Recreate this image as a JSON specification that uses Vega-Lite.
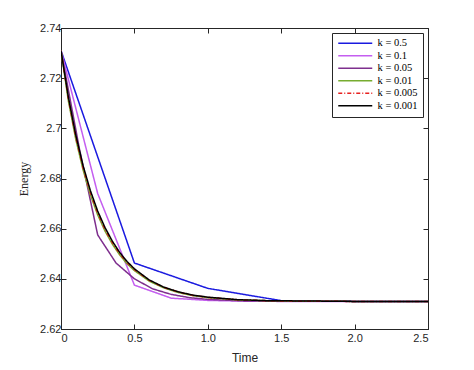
{
  "$schema": "https://vega.github.io/schema/vega-lite/v6.json",
  "autosize": "none",
  "width": 367,
  "height": 301,
  "padding": {"left": 61, "top": 28, "right": 46, "bottom": 41},
  "background": "white",
  "config": {
    "view": {"stroke": "#262626", "strokeWidth": 1},
    "axis": {"grid": false, "domainColor": "#262626", "tickColor": "#262626", "labelColor": "#262626", "labelFont": "Liberation Sans", "labelFontSize": 11, "tickSize": -5, "titleColor": "#262626", "titleFontWeight": "normal"}
  },
  "data": {"values": [
    {"k": "k = 0.5", "t": 0, "E": 2.731},
    {"k": "k = 0.5", "t": 0.5, "E": 2.6463},
    {"k": "k = 0.5", "t": 1.0, "E": 2.6362},
    {"k": "k = 0.5", "t": 1.5, "E": 2.6313},
    {"k": "k = 0.5", "t": 2.0, "E": 2.631},
    {"k": "k = 0.5", "t": 2.5, "E": 2.631},
    {"k": "k = 0.1", "t": 0, "E": 2.731},
    {"k": "k = 0.1", "t": 0.25, "E": 2.674},
    {"k": "k = 0.1", "t": 0.5, "E": 2.6375},
    {"k": "k = 0.1", "t": 0.75, "E": 2.6323},
    {"k": "k = 0.1", "t": 1.0, "E": 2.6314},
    {"k": "k = 0.1", "t": 1.25, "E": 2.6311},
    {"k": "k = 0.1", "t": 1.5, "E": 2.631},
    {"k": "k = 0.1", "t": 2.0, "E": 2.631},
    {"k": "k = 0.1", "t": 2.5, "E": 2.631},
    {"k": "k = 0.05", "t": 0, "E": 2.731},
    {"k": "k = 0.05", "t": 0.125, "E": 2.692},
    {"k": "k = 0.05", "t": 0.25, "E": 2.6575},
    {"k": "k = 0.05", "t": 0.375, "E": 2.6463},
    {"k": "k = 0.05", "t": 0.5, "E": 2.64},
    {"k": "k = 0.05", "t": 0.625, "E": 2.636},
    {"k": "k = 0.05", "t": 0.75, "E": 2.6338},
    {"k": "k = 0.05", "t": 0.875, "E": 2.6325},
    {"k": "k = 0.05", "t": 1.0, "E": 2.6318},
    {"k": "k = 0.05", "t": 1.25, "E": 2.6312},
    {"k": "k = 0.05", "t": 1.5, "E": 2.6311},
    {"k": "k = 0.05", "t": 2.0, "E": 2.631},
    {"k": "k = 0.05", "t": 2.5, "E": 2.631},
    {"k": "k = 0.01", "t": 0, "E": 2.731},
    {"k": "k = 0.01", "t": 0.05, "E": 2.711},
    {"k": "k = 0.01", "t": 0.1, "E": 2.6958},
    {"k": "k = 0.01", "t": 0.15, "E": 2.6835},
    {"k": "k = 0.01", "t": 0.2, "E": 2.6735},
    {"k": "k = 0.01", "t": 0.25, "E": 2.6655},
    {"k": "k = 0.01", "t": 0.3, "E": 2.659},
    {"k": "k = 0.01", "t": 0.35, "E": 2.6538},
    {"k": "k = 0.01", "t": 0.4, "E": 2.6495},
    {"k": "k = 0.01", "t": 0.45, "E": 2.646},
    {"k": "k = 0.01", "t": 0.5, "E": 2.6433},
    {"k": "k = 0.01", "t": 0.6, "E": 2.6391},
    {"k": "k = 0.01", "t": 0.7, "E": 2.6364},
    {"k": "k = 0.01", "t": 0.8, "E": 2.6345},
    {"k": "k = 0.01", "t": 0.9, "E": 2.6333},
    {"k": "k = 0.01", "t": 1.0, "E": 2.6325},
    {"k": "k = 0.01", "t": 1.2, "E": 2.6316},
    {"k": "k = 0.01", "t": 1.4, "E": 2.6313},
    {"k": "k = 0.01", "t": 1.6, "E": 2.6311},
    {"k": "k = 0.01", "t": 2.0, "E": 2.631},
    {"k": "k = 0.01", "t": 2.5, "E": 2.631},
    {"k": "k = 0.005", "t": 0, "E": 2.731},
    {"k": "k = 0.005", "t": 0.05, "E": 2.7118},
    {"k": "k = 0.005", "t": 0.1, "E": 2.6966},
    {"k": "k = 0.005", "t": 0.15, "E": 2.6843},
    {"k": "k = 0.005", "t": 0.2, "E": 2.6743},
    {"k": "k = 0.005", "t": 0.25, "E": 2.6662},
    {"k": "k = 0.005", "t": 0.3, "E": 2.6597},
    {"k": "k = 0.005", "t": 0.35, "E": 2.6544},
    {"k": "k = 0.005", "t": 0.4, "E": 2.65},
    {"k": "k = 0.005", "t": 0.45, "E": 2.6465},
    {"k": "k = 0.005", "t": 0.5, "E": 2.6437},
    {"k": "k = 0.005", "t": 0.6, "E": 2.6394},
    {"k": "k = 0.005", "t": 0.7, "E": 2.6366},
    {"k": "k = 0.005", "t": 0.8, "E": 2.6347},
    {"k": "k = 0.005", "t": 0.9, "E": 2.6334},
    {"k": "k = 0.005", "t": 1.0, "E": 2.6326},
    {"k": "k = 0.005", "t": 1.2, "E": 2.6317},
    {"k": "k = 0.005", "t": 1.4, "E": 2.6313},
    {"k": "k = 0.005", "t": 1.6, "E": 2.6311},
    {"k": "k = 0.005", "t": 2.0, "E": 2.631},
    {"k": "k = 0.005", "t": 2.5, "E": 2.631},
    {"k": "k = 0.001", "t": 0, "E": 2.731},
    {"k": "k = 0.001", "t": 0.05, "E": 2.7125},
    {"k": "k = 0.001", "t": 0.1, "E": 2.6975},
    {"k": "k = 0.001", "t": 0.15, "E": 2.6852},
    {"k": "k = 0.001", "t": 0.2, "E": 2.6752},
    {"k": "k = 0.001", "t": 0.25, "E": 2.667},
    {"k": "k = 0.001", "t": 0.3, "E": 2.6604},
    {"k": "k = 0.001", "t": 0.35, "E": 2.655},
    {"k": "k = 0.001", "t": 0.4, "E": 2.6505},
    {"k": "k = 0.001", "t": 0.45, "E": 2.6469},
    {"k": "k = 0.001", "t": 0.5, "E": 2.644},
    {"k": "k = 0.001", "t": 0.6, "E": 2.6396},
    {"k": "k = 0.001", "t": 0.7, "E": 2.6367},
    {"k": "k = 0.001", "t": 0.8, "E": 2.6348},
    {"k": "k = 0.001", "t": 0.9, "E": 2.6335},
    {"k": "k = 0.001", "t": 1.0, "E": 2.6327},
    {"k": "k = 0.001", "t": 1.2, "E": 2.6317},
    {"k": "k = 0.001", "t": 1.4, "E": 2.6313},
    {"k": "k = 0.001", "t": 1.6, "E": 2.6312},
    {"k": "k = 0.001", "t": 1.8, "E": 2.6311},
    {"k": "k = 0.001", "t": 2.0, "E": 2.631},
    {"k": "k = 0.001", "t": 2.5, "E": 2.631}
  ]},
  "layer": [
    {
      "mark": {"type": "line", "strokeWidth": 1.5, "clip": true},
      "encoding": {
        "x": {"field": "t", "type": "quantitative", "scale": {"domain": [0, 2.5], "nice": false},
              "axis": {"orient": "bottom", "title": "Time", "titleFont": "Liberation Sans", "titleFontSize": 12, "titlePadding": 9, "values": [0, 0.5, 1, 1.5, 2, 2.5], "labelExpr": "datum.value == 0 ? '0' : format(datum.value, '.1f')", "labelPadding": 8}},
        "y": {"field": "E", "type": "quantitative", "scale": {"domain": [2.62, 2.74], "nice": false, "zero": false},
              "axis": {"orient": "left", "title": "Energy", "titleFont": "Liberation Serif", "titleFontSize": 12, "titlePadding": 9, "values": [2.62, 2.64, 2.66, 2.68, 2.7, 2.72, 2.74], "format": ".2~f", "labelPadding": 5}},
        "color": {"field": "k", "type": "nominal",
                  "scale": {"domain": ["k = 0.5", "k = 0.1", "k = 0.05", "k = 0.01", "k = 0.005", "k = 0.001"],
                            "range": ["#1a1adf", "#c45ef0", "#7e2f8e", "#77ac30", "#e8201f", "#000000"]},
                  "legend": {"title": null, "orient": "none", "legendX": 271, "legendY": 5, "fillColor": "white", "strokeColor": "#262626", "padding": 5, "labelFont": "Liberation Serif", "labelFontSize": 10.5, "labelColor": "#000000", "symbolType": "M-1,0H7.5", "symbolSize": 64, "symbolStrokeWidth": 1.5, "rowPadding": 1.5, "labelOffset": 30}},
        "strokeDash": {"field": "k", "type": "nominal",
                  "scale": {"domain": ["k = 0.5", "k = 0.1", "k = 0.05", "k = 0.01", "k = 0.005", "k = 0.001"],
                            "range": [[1, 0], [1, 0], [1, 0], [1, 0], [4, 2, 1, 2], [1, 0]]},
                  "legend": null}
      }
    },
    {
      "mark": {"type": "point", "opacity": 0},
      "encoding": {
        "x": {"field": "t", "type": "quantitative", "axis": {"orient": "top", "title": null, "labels": false, "domain": false, "values": [0, 0.5, 1, 1.5, 2, 2.5]}},
        "y": {"field": "E", "type": "quantitative", "axis": {"orient": "right", "title": null, "labels": false, "domain": false, "values": [2.62, 2.64, 2.66, 2.68, 2.7, 2.72, 2.74]}}
      }
    }
  ],
  "resolve": {"axis": {"x": "independent", "y": "independent"}}
}
